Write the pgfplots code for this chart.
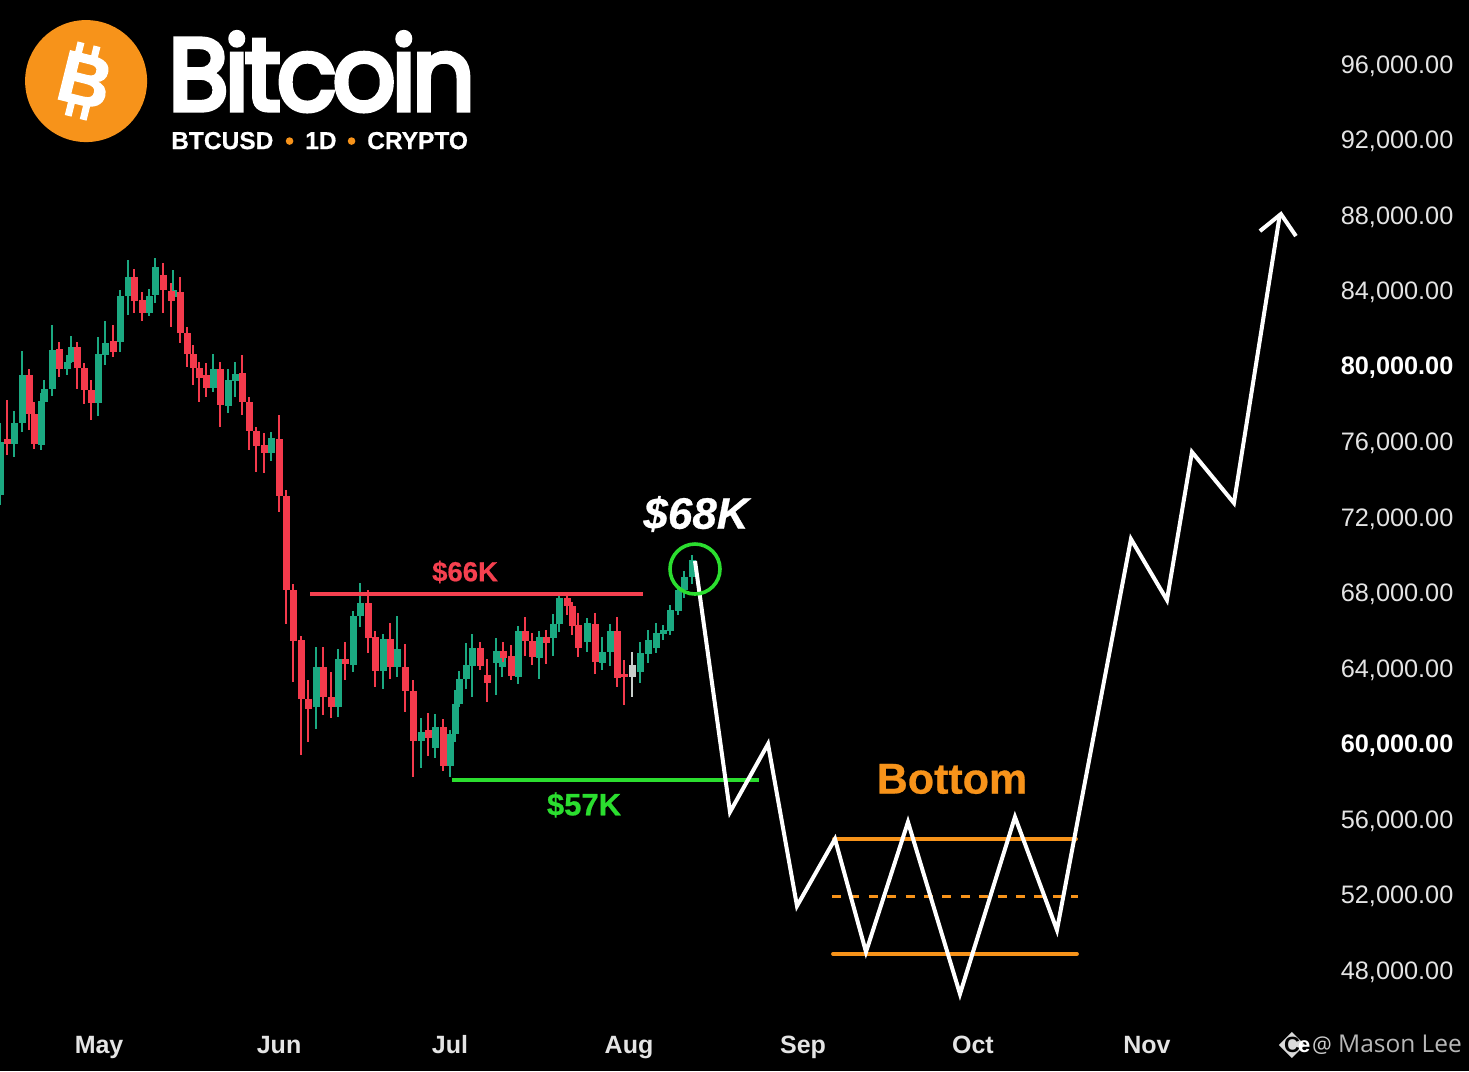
\documentclass[border=0pt]{standalone}
\usepackage{pgfplots}
\usepackage{pgfplotstable}
\usepackage{fontspec}
\pgfplotsset{compat=1.18}
\setmainfont{Liberation Sans}
\newfontfamily\logofont{Poppins}[LetterSpace=-4,FakeBold=5]
\newfontfamily\heavy{Liberation Sans}[FakeBold=0.6]
\newfontfamily\blogo{Liberation Sans}[FakeBold=2]
\newfontfamily\wmfont{Open Sans}
\definecolor{cred}{HTML}{F43A4C}
\definecolor{cgreen}{HTML}{1BA981}
\definecolor{cgray}{HTML}{C9CFCB}
\definecolor{lred}{HTML}{F5404F}
\definecolor{lgreen}{HTML}{2BDE2F}
\definecolor{corange}{HTML}{F7931A}
\definecolor{tickc}{HTML}{E4E4E4}
\pgfplotstableread{
x high top bot low
7 78199 76115 75868 75285
29 79824 79506 77457 76610
34 78111 77457 75868 75586
59 81272 80884 79824 79435
77 81272 81025 79877 78764
84 80177 79877 78729 77970
91 79259 78729 78023 77140
113 82173 81343 80760 80495
134 85122 84733 83444 82826
142 83939 83497 82826 82385
163 85475 84804 84027 82826
171 84380 83992 83462 82084
180 84733 83921 81767 81201
187 82049 81767 80619 79965
193 81113 80619 79877 78994
199 80230 79877 79347 78111
206 80177 79506 78817 78340
220 80230 79824 77934 76786
242 80566 79612 78076 77404
249 78340 78111 76557 75550
256 76786 76574 75762 74402
264 76469 75797 75374 74314
279 77404 76133 73113 72282
286 73430 73112 68132 66331
293 68450 68132 65430 63276
301 65695 65483 62357 59390
308 63364 62340 61828 60062
323 65130 64070 62481 61510
331 63805 62446 61951 61333
345 65395 64477 64194 63364
368 68132 67426 65607 64777
375 65978 65642 63841 62975
390 66366 65536 64035 63417
405 65271 64070 62799 61686
413 63364 62781 60132 58243
428 61598 60715 60273 59338
443 61280 60856 58825 58543
480 65360 65042 64106 63894
487 64477 63629 63187 62216
503 65360 64918 64547 64335
511 65218 64636 63576 63364
525 66719 65960 65448 64653
532 65836 65448 64565 64159
546 66013 65660 65307 64212
567 68044 67691 67285 66808
572 67514 67285 66243 65748
578 66896 66278 65042 64565
595 66896 66331 64300 63682
617 66684 65978 63452 63011
624 64424 63682 63541 62039
}\redcandles
\pgfplotstableread{
x high top bot low
0 76963 75992 73166 72636
14 77634 76963 75868 75197
22 80813 79524 76963 76521
41 78552 78164 75815 75550
44 79259 78782 78111 78023
52 82173 80848 78764 78411
67 80583 80230 79824 79524
71 81608 81025 80195 80142
98 81519 80619 78058 77369
105 82385 81237 80583 80054
120 84027 83709 81290 80760
128 85616 84733 83709 82702
149 84080 83709 82826 82650
155 85705 85228 83762 83321
173 85087 84027 83674 83497
213 80619 79824 78853 78641
228 79824 79259 77899 77493
235 80230 79577 79223 78340
271 76521 76168 75409 74985
316 65095 64070 61951 60768
338 65006 64477 61951 61421
353 67037 66755 64159 63805
360 68485 67426 66755 66190
383 65801 65536 63841 62870
397 66755 64989 64070 63505
421 61333 60591 60132 58684
435 61563 60856 59779 59249
450 60715 60485 58825 58243
455 62834 62092 60485 60097
459 63858 63399 62092 61951
466 65307 64159 63417 62887
472 65801 65042 64106 62481
496 65571 64918 64247 62569
502 64600 64512 64070 63541
518 66243 65960 63505 63152
539 65978 65660 64547 63417
553 66861 66313 65607 64653
559 68044 67691 66313 65925
587 66631 66366 65395 64865
602 65624 64847 64282 63894
610 66331 65978 64830 64123
640 65395 64777 63805 63223
648 66013 65483 64741 64247
656 66402 65872 65042 64777
663 66278 66013 65783 65483
670 67338 67073 65960 65748
678 68220 68132 67020 66808
684 69156 68803 68132 67691
692 69986 69722 68839 68450
}\greencandles
\pgfplotstableread{
x high top bot low
632 64865 64159 63505 62481
}\graycandles
\pgfplotsset{
 wick/.style={draw=none,mark=none,forget plot,error bars/.cd,y dir=both,y explicit,error mark=none,
   error bar style={line width=2.2pt,draw=#1,solid}},
 body/.style={draw=none,mark=none,forget plot,error bars/.cd,y dir=both,y explicit,error mark=none,
   error bar style={line width=7pt,draw=#1,solid}},
}
\newcommand{\candles}[2]{%
 \addplot[wick=#2] table[x=x,y expr={(\thisrow{high}+\thisrow{low})/2},y error expr={(\thisrow{high}-\thisrow{low})/2}] {#1};
 \addplot[body=#2] table[x=x,y expr={(\thisrow{top}+\thisrow{bot})/2},y error expr={(\thisrow{top}-\thisrow{bot})/2}] {#1};
}
\begin{document}
\begin{tikzpicture}[x=1pt,y=1pt]
\begin{axis}[
 at={(0pt,0pt)},anchor=south west,
 width=1469pt,height=1071pt,scale only axis,
 xmin=0,xmax=1469,ymin=42650,ymax=99391,
 axis background/.style={fill=black},
 axis line style={draw=none},
 major tick length=0pt,
 scaled y ticks=false,scaled x ticks=false,
 xtick={99,279,450,629,803,973,1147},
 xticklabels={May,Jun,Jul,Aug,Sep,Oct,Nov},
 xticklabel style={anchor=base,yshift=17pt,text=tickc,font=\fontsize{25}{25}\selectfont\bfseries},
 ytick={48000,52000,56000,60000,64000,68000,72000,76000,80000,84000,88000,92000,96000},
 yticklabels={48{,}000.00,52{,}000.00,56{,}000.00,\textbf{\textcolor{white}{60{,}000.00}},64{,}000.00,68{,}000.00,72{,}000.00,76{,}000.00,\textbf{\textcolor{white}{80{,}000.00}},84{,}000.00,88{,}000.00,92{,}000.00,96{,}000.00},
 yticklabel pos=right,
 yticklabel style={anchor=east,xshift=-12pt,yshift=-2pt,text=tickc,font=\fontsize{25.3}{25.3}\selectfont},
 clip=true,
]
\candles{\greencandles}{cgreen}
\candles{\redcandles}{cred}
\candles{\graycandles}{cgray}
\addplot[lred,line width=3.8pt,forget plot] coordinates {(310,67921) (643,67921)};
\addplot[lgreen,line width=3.6pt,forget plot] coordinates {(452,58066) (759,58066)};
\addplot[corange,line width=3.8pt,line cap=round,forget plot] coordinates {(834,54940) (1076,54940)};
\addplot[corange,line width=3pt,dash pattern=on 9pt off 9.4pt,forget plot] coordinates {(832,51868) (1078,51868)};
\addplot[corange,line width=3.8pt,line cap=round,forget plot] coordinates {(833,48848) (1077,48848)};
\addplot[white,line width=4pt,line join=miter,forget plot] coordinates {
 (695,69669) (730,56371) (768,59974) (797,51391) (835,54940) (866,48954) (908,55841) (960,46729)
 (1015,56106) (1057,50119) (1131,70834) (1167,67603) (1192,75444) (1234,72742) (1280,88053)};
\addplot[white,line width=4pt,line join=miter,forget plot] coordinates {(1260,87152) (1281,88053) (1296,86887)};
\addplot[only marks,mark=o,mark size=25pt,mark options={draw=lgreen,line width=3.6pt,fill=none},forget plot] coordinates {(695,69245)};
\end{axis}
\begin{scope}[shift={(0pt,1071pt)},y=-1pt]
 % logo
 \fill[corange] (86,81) circle (61pt);
 \node[rotate=-14,text=white,font=\blogo\fontsize{72}{72}\selectfont\bfseries,inner sep=0pt] at (85,80) {B};
 \foreach \xx/\yy in {79/50,95/54,70/108,85/112}{\fill[white,rotate around={-14:(\xx,\yy)}] (\xx-3.5,\yy-8) rectangle (\xx+3.5,\yy+8);}
 \node[anchor=base west,text=white,inner sep=0pt,xscale=0.965,font=\logofont\fontsize{102}{102}\selectfont] at (168,110) {Bitcoin};
 \node[anchor=base west,text=white,inner sep=0pt,font=\heavy\fontsize{24.5}{25}\selectfont\bfseries] at (171,149) {BTCUSD};
 \node[anchor=base west,text=white,inner sep=0pt,font=\heavy\fontsize{24.5}{25}\selectfont\bfseries] at (305,149) {1D};
 \node[anchor=base west,text=white,inner sep=0pt,font=\heavy\fontsize{24.5}{25}\selectfont\bfseries] at (367,149) {CRYPTO};
 \fill[corange] (289.5,141) circle (3.8pt) (351.5,141) circle (3.8pt);
 % annotations
 \node[text=white,font=\heavy\fontsize{44}{44}\selectfont\bfseries\itshape,inner sep=0pt] at (696,514) {\$68K};
 \node[text=lred,font=\heavy\fontsize{27.5}{28}\selectfont\bfseries,inner sep=0pt] at (465,572) {\$66K};
 \node[text=lgreen,font=\heavy\fontsize{31}{31}\selectfont\bfseries,inner sep=0pt] at (584,805) {\$57K};
 \node[text=corange,font=\heavy\fontsize{43}{43}\selectfont\bfseries,inner sep=0pt] at (952,779) {Bottom};
 % watermark
 \fill[white!85!black] (1292,1032) -- (1305,1045) -- (1292,1058) -- (1279,1045) -- cycle;
 \node[anchor=base west,text=black,inner sep=0pt,font=\fontsize{22}{22}\selectfont\bfseries] at (1284,1053) {C};
 \node[anchor=base west,text=white,inner sep=0pt,font=\fontsize{22}{22}\selectfont\bfseries] at (1298,1053) {e};
 \node[anchor=base west,text=white!80!black,inner sep=0pt,font=\wmfont\fontsize{22}{22}\selectfont] at (1312,1053) {@};
 \node[anchor=base west,text=white!72!black,inner sep=0pt,font=\wmfont\fontsize{24.5}{25}\selectfont] at (1338,1053) {Mason Lee};
\end{scope}
\end{tikzpicture}
\end{document}
